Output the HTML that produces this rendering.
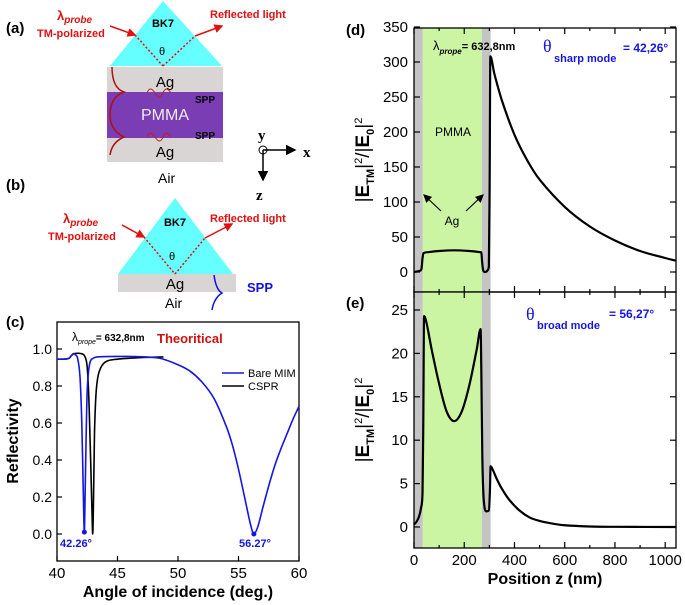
<!DOCTYPE html>
<html><head><meta charset="utf-8">
<style>
html,body{margin:0;padding:0;background:#fff;}
svg{display:block;font-family:"Liberation Sans",Arial,sans-serif;}
</style></head>
<body>
<svg id="fig" width="685" height="605" viewBox="0 0 685 605" xmlns="http://www.w3.org/2000/svg">
<defs>
<marker id="arR" markerWidth="6" markerHeight="6" refX="5" refY="3" orient="auto"><path d="M0,0 L6,3 L0,6 z" fill="#e01010"/></marker>
<marker id="arK" markerWidth="7" markerHeight="7" refX="6" refY="3.5" orient="auto"><path d="M0,0 L7,3.5 L0,7 z" fill="#000"/></marker>
</defs>

<g>
<text x="6" y="33" font-size="15" font-weight="bold">(a)</text>
<polygon points="163,1 110,66 222,66" fill="#66ffff"/>
<rect x="107" y="67" width="116" height="25" fill="#d9d5d5"/>
<rect x="107" y="92" width="116" height="46" fill="#7a3db3"/>
<rect x="107" y="138" width="116" height="24" fill="#d9d5d5"/>
<text x="165" y="87" font-size="15" text-anchor="middle">Ag</text>
<text x="165" y="120" font-size="16" fill="#eee" text-anchor="middle">PMMA</text>
<text x="165" y="157" font-size="15" text-anchor="middle">Ag</text>
<text x="195" y="103" font-size="10" font-weight="bold">SPP</text>
<text x="195" y="139" font-size="10" font-weight="bold">SPP</text>
<path d="M147,93 Q150,85 155,93 T163,93 T171,93" fill="none" stroke="#c02020" stroke-width="1"/>
<path d="M147,137 Q150,129 155,137 T163,137 T171,137" fill="none" stroke="#c02020" stroke-width="1"/>
<path d="M112,67 Q112,88 124,92 Q110,97 110,115 Q110,130 124,137 Q112,142 110,155" fill="none" stroke="#b01010" stroke-width="1.5"/>
<text x="163" y="27" font-size="11" font-weight="bold" text-anchor="middle">BK7</text>
<text x="162" y="55" font-size="11" text-anchor="middle">θ</text>
<line x1="110" y1="26" x2="135" y2="35" stroke="#e01010" stroke-width="1.5" marker-end="url(#arR)"/>
<line x1="135" y1="35" x2="163" y2="66" stroke="#e01010" stroke-width="1.5" stroke-dasharray="2,2"/>
<line x1="163" y1="66" x2="195" y2="36" stroke="#e01010" stroke-width="1.5" stroke-dasharray="2,2"/>
<line x1="195" y1="36" x2="222" y2="26" stroke="#e01010" stroke-width="1.5" marker-end="url(#arR)"/>
<text x="57" y="20" font-size="13" font-weight="bold" fill="#e01010">λ<tspan font-size="10" dy="3" font-style="italic">probe</tspan></text>
<text x="37" y="37" font-size="11" font-weight="bold" fill="#e01010">TM-polarized</text>
<text x="210" y="18" font-size="11" font-weight="bold" fill="#e01010">Reflected light</text>
<text x="158" y="183" font-size="14">Air</text>
</g>
<g>
<circle cx="263" cy="150" r="4" fill="none" stroke="#000"/>
<line x1="263" y1="150" x2="295" y2="150" stroke="#000" stroke-width="1.5" marker-end="url(#arK)"/>
<line x1="263" y1="150" x2="263" y2="180" stroke="#000" stroke-width="1.5" marker-end="url(#arK)"/>
<text x="258" y="140" font-size="15" font-weight="bold" font-family="Liberation Serif,serif">y</text>
<text x="303" y="157" font-size="15" font-weight="bold" font-family="Liberation Serif,serif">x</text>
<text x="256" y="200" font-size="15" font-weight="bold" font-family="Liberation Serif,serif">z</text>
</g>
<g>
<text x="6" y="190" font-size="15" font-weight="bold">(b)</text>
<polygon points="175,198 118,274 233,274" fill="#66ffff"/>
<rect x="118" y="274" width="118" height="18" fill="#d9d5d5"/>
<text x="175" y="289" font-size="15" text-anchor="middle">Ag</text>
<text x="165" y="308" font-size="14">Air</text>
<text x="175" y="226" font-size="11" font-weight="bold" text-anchor="middle">BK7</text>
<text x="172" y="260" font-size="11" text-anchor="middle">θ</text>
<line x1="122" y1="225" x2="144" y2="237" stroke="#e01010" stroke-width="1.5" marker-end="url(#arR)"/>
<line x1="144" y1="237" x2="175" y2="274" stroke="#e01010" stroke-width="1.5" stroke-dasharray="2,2"/>
<line x1="175" y1="274" x2="205" y2="238" stroke="#e01010" stroke-width="1.5" stroke-dasharray="2,2"/>
<line x1="205" y1="238" x2="232" y2="224" stroke="#e01010" stroke-width="1.5" marker-end="url(#arR)"/>
<text x="63" y="223" font-size="13" font-weight="bold" fill="#e01010">λ<tspan font-size="10" dy="3" font-style="italic">probe</tspan></text>
<text x="48" y="240" font-size="11" font-weight="bold" fill="#e01010">TM-polarized</text>
<text x="210" y="222" font-size="11" font-weight="bold" fill="#e01010">Reflected light</text>
<path d="M214,275 Q216,290 222,293 Q214,298 212,310" fill="none" stroke="#1010e0" stroke-width="1.5"/>
<text x="247" y="292" font-size="13" font-weight="bold" fill="#1010e0">SPP</text>
</g>

<text x="6" y="327" font-size="15" font-weight="bold">(c)</text>
<text x="346" y="35" font-size="15" font-weight="bold">(d)</text>
<text x="346" y="308" font-size="15" font-weight="bold">(e)</text>

<g id="gc"></g>
<g id="gd"></g>
<g id="ge"></g>
</svg>
<script>
// Panel (c) data
const cAngleTicks = [40,45,50,55,60];
const cReflTicks = [0.0,0.2,0.4,0.6,0.8,1.0];
const bareAngles = [40,40.5,41,41.2,41.35,41.5,41.7,41.9,42.05,42.15,42.22,42.26,42.32,42.4,42.5,42.7,43,43.5,45,47,48.5,50,51,52,53,54,54.5,55,55.5,56,56.27,56.6,57,57.5,58,58.5,59,59.5,60];
const bareRefl = [0.945,0.945,0.95,0.965,0.975,0.97,0.95,0.85,0.6,0.3,0.08,0.01,0.2,0.5,0.78,0.92,0.95,0.958,0.96,0.958,0.95,0.915,0.88,0.82,0.73,0.58,0.48,0.35,0.2,0.05,0.0,0.04,0.14,0.26,0.37,0.46,0.54,0.62,0.69];
const cspAngles = [40,40.5,41,41.2,41.4,41.7,42,42.3,42.5,42.65,42.8,42.9,42.95,43.02,43.1,43.25,43.5,44,45,46,47.5,48.8];
const cspRefl = [0.945,0.945,0.95,0.965,0.975,0.977,0.975,0.96,0.9,0.7,0.35,0.1,0.0,0.2,0.55,0.78,0.88,0.93,0.945,0.95,0.955,0.957];
// Panel (d) data
const zTicks = [0,200,400,600,800,1000];
const dTicks = [0,50,100,150,200,250,300,350];
const dZ = [0,15,25,30,34,38,60,100,160,220,260,268,271,275,282,292,298,301,304,320,350,400,450,500,600,700,800,900,1000,1045];
const dVal = [0,1,2,5,20,27,28.5,30,31,30,28.5,28,15,3,0,2,8,120,308,283,245,196,160,132,93,65,45,30,20,16];
// Panel (e) data
const eTicks = [0,5,10,15,20,25];
const eZ = [0,10,20,28,34,37,40,50,70,100,130,160,190,220,250,265,268,272,278,288,298,302,305,315,330,350,380,420,460,500,550,600,700,800,1045];
const eVal = [0.3,0.6,1.2,2.2,4,12,24.3,23.5,20.5,16.5,13.3,12.2,13.3,16.3,20.5,22.8,18,8,3,1.8,1.9,4,7,6.5,5.5,4.4,3.1,1.9,1.1,0.7,0.4,0.2,0.06,0.02,0];

const NS='http://www.w3.org/2000/svg';
function mk(parent,tag,attrs){const e=document.createElementNS(NS,tag);for(const k in attrs)e.setAttribute(k,attrs[k]);parent.appendChild(e);return e;}
function txt(parent,x,y,s,attrs){const t=mk(parent,'text',Object.assign({x:x,y:y},attrs||{}));t.textContent=s;return t;}
function smooth(pts){
  let d='M'+pts[0][0].toFixed(2)+','+pts[0][1].toFixed(2);
  const n=pts.length, m=[];
  for(let i=0;i<n;i++){
    const a=pts[Math.max(0,i-1)], b=pts[Math.min(n-1,i+1)];
    let s=(b[1]-a[1])/((b[0]-a[0])||1);
    if(i>0&&i<n-1){
      const s1=(pts[i][1]-pts[i-1][1])/((pts[i][0]-pts[i-1][0])||1);
      const s2=(pts[i+1][1]-pts[i][1])/((pts[i+1][0]-pts[i][0])||1);
      if(s1*s2<=0) s=0; else s=Math.sign(s)*Math.min(Math.abs(s),3*Math.abs(s1),3*Math.abs(s2));
    }
    m.push(s);
  }
  for(let i=0;i<n-1;i++){
    const p=pts[i],q=pts[i+1],h=(q[0]-p[0])/3;
    d+=' C'+(p[0]+h).toFixed(2)+','+(p[1]+m[i]*h).toFixed(2)+' '+(q[0]-h).toFixed(2)+','+(q[1]-m[i+1]*h).toFixed(2)+' '+q[0].toFixed(2)+','+q[1].toFixed(2);
  }
  return d;
}

const gc=document.getElementById('gc');
const xc=a=>57+(a-40)*(242/20);
const yc=r=>534-r*185;
cAngleTicks.forEach(a=>{
  const t=mk(gc,'line',{x1:xc(a),y1:561,x2:xc(a),y2:556,stroke:'#000','stroke-width':1.2});
  
  
  const l=txt(gc,xc(a),578,String(a),{'font-size':15,'text-anchor':'middle'});
  
  
});
cReflTicks.forEach(r=>{
  mk(gc,'line',{x1:57,y1:yc(r),x2:62,y2:yc(r),stroke:'#000','stroke-width':1.2});
  const l=txt(gc,52,yc(r)+5,r.toFixed(1),{'font-size':14,'text-anchor':'end'});
  
  
});
const bc=mk(gc,'rect',{x:57,y:322,width:242,height:239,fill:'none',stroke:'#000','stroke-width':1.3});


const pc1=mk(gc,'path',{d:smooth(cspAngles.map((a,i)=>[xc(a),yc(cspRefl[i])])),fill:'none',stroke:'#000','stroke-width':1.6});


const pc2=mk(gc,'path',{d:smooth(bareAngles.map((a,i)=>[xc(a),yc(bareRefl[i])])),fill:'none',stroke:'#1515e0','stroke-width':1.6});


mk(gc,'circle',{cx:xc(42.26),cy:yc(0.01),r:2.5,fill:'#1515e0'});
mk(gc,'circle',{cx:xc(56.27),cy:yc(0),r:2.5,fill:'#1515e0'});
txt(gc,76,547,'42.26°',{'font-size':11,'font-weight':'bold',fill:'#1515e0','text-anchor':'middle'});
txt(gc,255,547,'56.27°',{'font-size':11,'font-weight':'bold',fill:'#1515e0','text-anchor':'middle'});
const t1=txt(gc,72,341,'λ',{'font-size':12});
const tp=mk(t1,'tspan',{'font-size':7,dy:3,'font-style':'italic'});tp.textContent='prope';
const tp2=mk(t1,'tspan',{'font-size':10,dy:-3,'font-weight':'bold'});tp2.textContent='= 632,8nm';
txt(gc,157,343,'Theoritical',{'font-size':13,'font-weight':'bold',fill:'#d01010'});
mk(gc,'line',{x1:222,y1:373,x2:244,y2:373,stroke:'#1515e0','stroke-width':1.6});
txt(gc,248,377,'Bare MIM',{'font-size':11});
mk(gc,'line',{x1:222,y1:386,x2:244,y2:386,stroke:'#000','stroke-width':1.6});
txt(gc,248,390,'CSPR',{'font-size':11});
txt(gc,178,597,'Angle of incidence (deg.)',{'font-size':16,'font-weight':'bold','text-anchor':'middle'});
txt(gc,0,0,'Reflectivity',{'font-size':16,'font-weight':'bold','text-anchor':'middle',transform:'translate(18,441) rotate(-90)'});

const xd=z=>414+z*0.2512;
const yd=v=>272-v*0.7;
const ye=v=>527-v*8.68;
function regions(g,y0,y1){
  mk(g,'rect',{x:xd(0),y:y0,width:xd(35)-xd(0),height:y1-y0,fill:'#c4c4c4'});
  mk(g,'rect',{x:xd(35),y:y0,width:xd(270)-xd(35),height:y1-y0,fill:'#ccf5a3'});
  mk(g,'rect',{x:xd(270),y:y0,width:xd(305)-xd(270),height:y1-y0,fill:'#c4c4c4'});
}
const gd=document.getElementById('gd'), ge=document.getElementById('ge');
regions(gd,28,292); regions(ge,292,548);
for(let z=0;z<=1000;z+=100){
  const len=z%200===0?6:3;
  [[gd,28,292],[ge,292,548]].forEach(([g,a,b])=>{
    mk(g,'line',{x1:xd(z),y1:a,x2:xd(z),y2:a+len,stroke:'#000','stroke-width':1.2});
    mk(g,'line',{x1:xd(z),y1:b,x2:xd(z),y2:b-len,stroke:'#000','stroke-width':1.2});
  });
}
zTicks.forEach(z=>{
  const l=txt(ge,xd(z),565,String(z),{'font-size':15,'text-anchor':'middle'});
  
  
});
dTicks.forEach(v=>{
  mk(gd,'line',{x1:414,y1:yd(v),x2:420,y2:yd(v),stroke:'#000','stroke-width':1.2});
  mk(gd,'line',{x1:676,y1:yd(v),x2:670,y2:yd(v),stroke:'#000','stroke-width':1.2});
  const l=txt(gd,408,yd(v)+5,String(v),{'font-size':15,'text-anchor':'end'});
  
  
});
eTicks.forEach(v=>{
  mk(ge,'line',{x1:414,y1:ye(v),x2:420,y2:ye(v),stroke:'#000','stroke-width':1.2});
  mk(ge,'line',{x1:676,y1:ye(v),x2:670,y2:ye(v),stroke:'#000','stroke-width':1.2});
  const l=txt(ge,408,ye(v)+5,String(v),{'font-size':15,'text-anchor':'end'});
  
  
});
const ld=mk(gd,'path',{d:smooth(dZ.map((z,i)=>[xd(z),yd(dVal[i])])),fill:'none',stroke:'#000','stroke-width':2.2});


const le=mk(ge,'path',{d:smooth(eZ.map((z,i)=>[xd(z),ye(eVal[i])])),fill:'none',stroke:'#000','stroke-width':2.2});


mk(gd,'rect',{x:414,y:28,width:262,height:264,fill:'none',stroke:'#000','stroke-width':1.3});
mk(ge,'rect',{x:414,y:292,width:262,height:256,fill:'none',stroke:'#000','stroke-width':1.3});
const ta=txt(gd,433,50,'λ',{'font-size':13});
const s1=mk(ta,'tspan',{'font-size':8,dy:4,'font-style':'italic','font-weight':'bold'});s1.textContent='prope';
const s2=mk(ta,'tspan',{'font-size':11,dy:-4,'font-weight':'bold'});s2.textContent='= 632,8nm';
txt(gd,543,52,'θ',{'font-size':18,fill:'#1515e0',"font-family":"Liberation Serif,serif"});
txt(gd,554,62,'sharp mode',{'font-size':11,'font-weight':'bold',fill:'#1515e0'});
txt(gd,623,52,'= 42,26°',{'font-size':12,'font-weight':'bold',fill:'#1515e0'});
txt(gd,453,136,'PMMA',{'font-size':12,'text-anchor':'middle'});
txt(gd,452,225,'Ag',{'font-size':12,'text-anchor':'middle'});
mk(gd,'line',{x1:441,y1:211,x2:424,y2:195,stroke:'#000','stroke-width':1.2,'marker-end':'url(#arK)'});
mk(gd,'line',{x1:466,y1:211,x2:483,y2:195,stroke:'#000','stroke-width':1.2,'marker-end':'url(#arK)'});
txt(ge,526,320,'θ',{'font-size':18,fill:'#1515e0',"font-family":"Liberation Serif,serif"});
txt(ge,537,329,'broad mode',{'font-size':11,'font-weight':'bold',fill:'#1515e0'});
txt(ge,609,318,'= 56,27°',{'font-size':12,'font-weight':'bold',fill:'#1515e0'});
function ytitle(g,cy){
  const t=txt(g,0,0,'',{'font-size':19,'text-anchor':'middle',transform:'translate(369,'+cy+') rotate(-90)'});
  const a=mk(t,'tspan',{});a.textContent='|';
  const b=mk(t,'tspan',{'font-weight':'bold'});b.textContent='E';
  const c=mk(t,'tspan',{'font-size':11,dy:5,'font-weight':'bold'});c.textContent='TM';
  const d=mk(t,'tspan',{dy:-5});d.textContent='|';
  const e=mk(t,'tspan',{'font-size':11,dy:-7});e.textContent='2';
  const f=mk(t,'tspan',{dy:7});f.textContent='/|';
  const h=mk(t,'tspan',{'font-weight':'bold'});h.textContent='E';
  const i=mk(t,'tspan',{'font-size':11,dy:5,'font-weight':'bold'});i.textContent='0';
  const j=mk(t,'tspan',{dy:-5});j.textContent='|';
  const k=mk(t,'tspan',{'font-size':11,dy:-7});k.textContent='2';
  
  
}
ytitle(gd,160); ytitle(ge,420);
txt(ge,545,584,'Position z (nm)',{'font-size':16,'font-weight':'bold','text-anchor':'middle'});
</script>
</body></html>
